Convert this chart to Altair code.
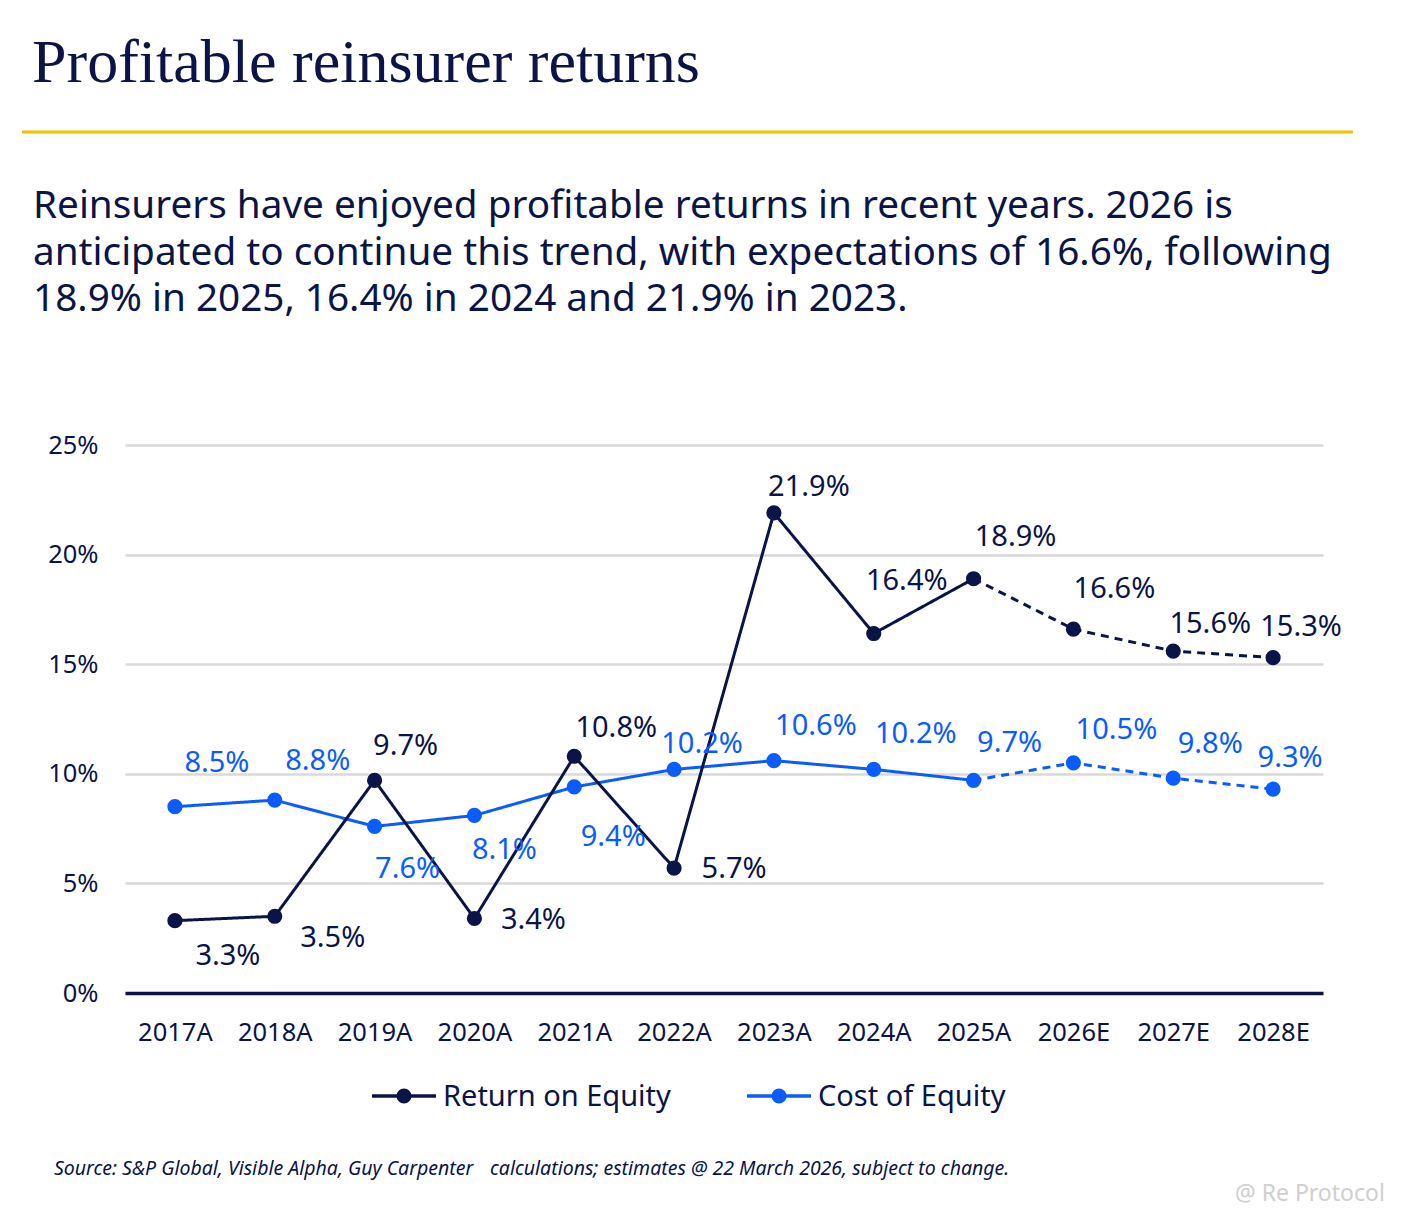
import altair as alt
import pandas as pd

# ---------------- data ----------------
years = ["2017A", "2018A", "2019A", "2020A", "2021A", "2022A",
         "2023A", "2024A", "2025A", "2026E", "2027E", "2028E"]
roe = [3.3, 3.5, 9.7, 3.4, 10.8, 5.7, 21.9, 16.4, 18.9, 16.6, 15.6, 15.3]
coe = [8.5, 8.8, 7.6, 8.1, 9.4, 10.2, 10.6, 10.2, 9.7, 10.5, 9.8, 9.3]
series_names = ["Return on Equity", "Cost of Equity"]
y_ticks = [0, 5, 10, 15, 20, 25]

title_text = "Profitable reinsurer returns"
subtitle_lines = [
    "Reinsurers have enjoyed profitable returns in recent years. 2026 is",
    "anticipated to continue this trend, with expectations of 16.6%, following",
    "18.9% in 2025, 16.4% in 2024 and 21.9% in 2023.",
]
source_part1 = "Source: S&P Global, Visible Alpha, Guy Carpenter"
source_part2 = "calculations; estimates @ 22 March 2026, subject to change."
watermark = "@ Re Protocol"

# ---------------- layout / style ----------------
NAVY = "#0a1447"
BLUE = "#0a5cff"
GRID = "#d9d9d9"
GOLD = "#f7bf00"
SANS = "Noto Sans"
series_colors = [NAVY, BLUE]

# label placement offsets (px) from each point to its label (center x, baseline y)
roe_label_dx = [53, 58, 31, 59, 42, 60, 35, 33, 42, 41, 37, 28]
roe_label_dy = [44, 31, -25, 11, -19, 10, -17, -44, -33, -31, -18, -22]
coe_label_dx = [42, 43, 33, 30, 39, 28, 42, 42, 36, 43, 37, 17]
coe_label_dy = [-35, -30, 52, 44, 59, -16, -26, -26, -28, -24, -25, -22]

W, H = 1198, 548
Y_MAX = 25

# ---------------- tables ----------------
rows = []
for name, vals, ldx, ldy in [
    (series_names[0], roe, roe_label_dx, roe_label_dy),
    (series_names[1], coe, coe_label_dx, coe_label_dy),
]:
    for i, (yr, v) in enumerate(zip(years, vals)):
        rows.append({"year": yr, "value": v, "series": name,
                     "label": f"{v}%", "dx": ldx[i], "dy": ldy[i]})
points_df = pd.DataFrame(rows)

line_rows = []
last_actual = max(i for i, y in enumerate(years) if y.endswith("A"))
for r in rows:
    idx = years.index(r["year"])
    if idx <= last_actual:
        line_rows.append({**r, "seg": "actual"})
    if idx >= last_actual:
        line_rows.append({**r, "seg": "estimate"})
line_df = pd.DataFrame(line_rows)

x_axis = alt.Axis(title=None, labelAngle=0, labelFont=SANS, labelFontSize=25.5,
                  labelColor=NAVY, labelPadding=27, ticks=False,
                  domainColor=NAVY, domainWidth=3.5, grid=False)
x_scale = alt.Scale(type="point", padding=0.5)
x_enc = alt.X("year:N", sort=years, scale=x_scale, axis=x_axis)

y_axis = alt.Axis(title=None, values=y_ticks, labelExpr="datum.value + '%'",
                  domain=False, ticks=False, gridColor=GRID, gridWidth=2.5,
                  labelFont=SANS, labelFontSize=25.5, labelColor=NAVY,
                  labelPadding=27)
y_scale = alt.Scale(domain=[0, Y_MAX], nice=False)
y_enc = alt.Y("value:Q", scale=y_scale, axis=y_axis)

color_enc = alt.Color("series:N", scale=alt.Scale(domain=series_names, range=series_colors),
                      legend=None)

lines = alt.Chart(line_df).mark_line(strokeWidth=3).encode(
    x=x_enc, y=y_enc, color=color_enc,
    strokeDash=alt.StrokeDash("seg:N", scale=alt.Scale(domain=["actual", "estimate"],
                                                       range=[[1, 0], [8, 6]]), legend=None),
    detail="seg:N",
)
lines_coe = lines.transform_filter(alt.datum.series == series_names[1])
lines_roe = lines.transform_filter(alt.datum.series == series_names[0])

dots = alt.Chart(points_df).mark_circle(size=230, opacity=1).encode(
    x=x_enc, y=y_enc, color=color_enc)

labels = alt.Chart(points_df).transform_calculate(
    ly=f"datum.value - datum.dy * {Y_MAX} / {H}"
).mark_text(
    font=SANS, fontSize=29, align="center", baseline="alphabetic"
).encode(
    x=x_enc,
    y=alt.Y("ly:Q", scale=y_scale, axis=y_axis),
    color=color_enc, text="label:N",
    xOffset=alt.XOffset("dx:Q", scale=None),
)

one = pd.DataFrame({"k": [0]})


def text_layer(txt, x, y, size, color=NAVY, font=SANS, style="normal", baseline="alphabetic"):
    return alt.Chart(pd.DataFrame({"t": [txt]})).mark_text(
        font=font, fontSize=size, color=color, align="left", baseline=baseline,
        fontStyle=style,
    ).encode(text="t:N", x=alt.value(x), y=alt.value(y))


deco = []
deco.append(text_layer(title_text, -93, -363, 62, font="Liberation Serif"))
deco.append(alt.Chart(one).mark_rule(color=GOLD, strokeWidth=3).encode(
    x=alt.value(-103), x2=alt.value(1228), y=alt.value(-313)))
for i, line in enumerate(subtitle_lines):
    deco.append(text_layer(line, -92, -227 + i * 46.7, 38.7))

# legend
legend_x = [247, 622]
for name, col, lx in zip(series_names, series_colors, legend_x):
    deco.append(alt.Chart(one).mark_rule(color=col, strokeWidth=3.5).encode(
        x=alt.value(lx), x2=alt.value(lx + 64), y=alt.value(651)))
    deco.append(alt.Chart(one).mark_circle(color=col, size=230, opacity=1).encode(
        x=alt.value(lx + 32), y=alt.value(651)))
    deco.append(text_layer(name, lx + 71, 652, 29, baseline="middle"))

deco.append(text_layer(source_part1, -71, 730, 19.5, style="italic"))
deco.append(text_layer(source_part2, 365, 730, 19.5, style="italic"))
deco.append(text_layer(watermark, 1110, 756, 23, color="#cfcfcf"))

chart = alt.layer(
    lines_coe, lines_roe, dots, labels, *deco
).properties(
    width=W, height=H,
    padding={"left": 117, "top": 437, "right": 71, "bottom": 218},
    autosize=alt.AutoSizeParams(type="none"),
).configure_view(stroke=None)

chart.save("out.html", embed_options={"renderer": "svg", "actions": False})
